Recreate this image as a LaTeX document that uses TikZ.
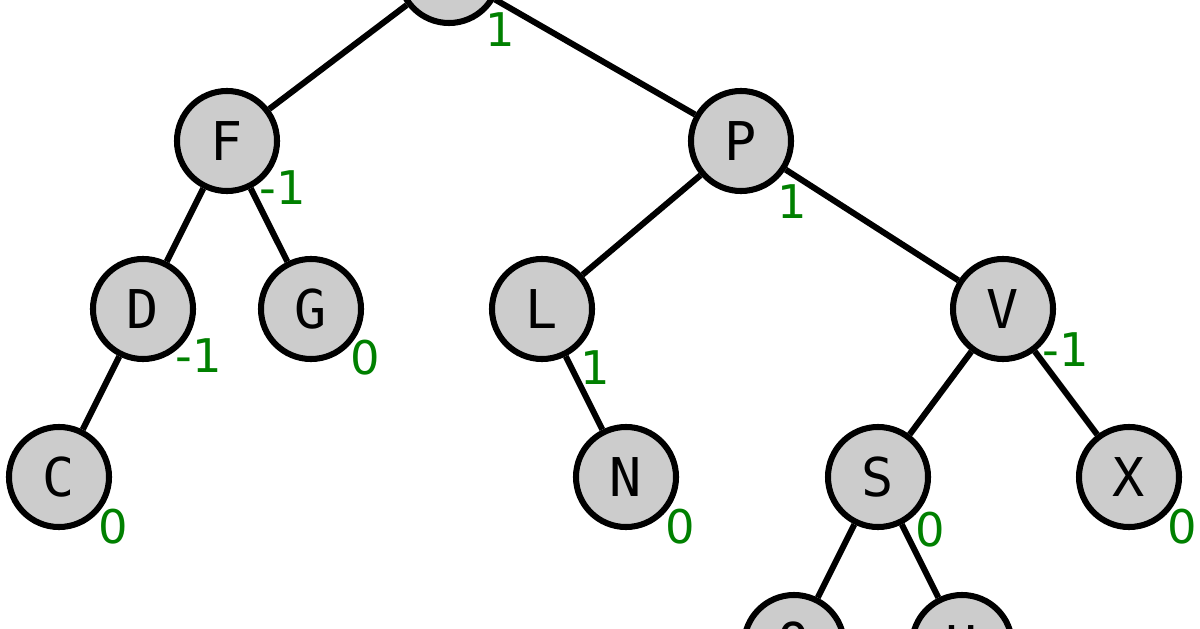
\documentclass[tikz,border=0pt]{standalone}
\usepackage{fontspec}
\setmainfont{DejaVu Sans Mono}
\newfontfamily\labfont{DejaVu Sans}
\definecolor{lab}{RGB}{0,128,0}
\begin{document}
\begin{tikzpicture}[x=0.025cm,y=-0.025cm,
  nd/.style={circle,draw=black,fill={rgb,255:red,204;green,204;blue,204},line width=4.3pt,minimum size=2.5cm,inner sep=0pt,font=\fontsize{38}{38}\selectfont},
  bf/.style={text=lab,font=\labfont\fontsize{33}{33}\selectfont,inner sep=0pt},
  ed/.style={line width=4.3pt}]
\useasboundingbox (0,0) rectangle (1200,629);
\clip (0,0) rectangle (1200,629);
\node[nd] (J) at (449,-27) {J};
\node[nd] (F) at (227,141) {F};
\node[nd] (P) at (741,141) {P};
\node[nd] (D) at (143,309) {D};
\node[nd] (G) at (311,309) {G};
\node[nd] (L) at (542,309) {L};
\node[nd] (V) at (1003,309) {V};
\node[nd] (C) at (59,477) {C};
\node[nd] (N) at (626,477) {N};
\node[nd] (S) at (878,477) {S};
\node[nd] (X) at (1129,477) {X};
\node[nd] (Q) at (794,645) {Q};
\node[nd] (U) at (962,645) {U};
\foreach \a/\b in {J/F,J/P,F/D,F/G,P/L,P/V,D/C,L/N,V/S,V/X,S/Q,S/U}
  \draw[ed] (\a) -- (\b);
\node[bf] at (500,30) {1};
\node[bf] at (283,188) {-1};
\node[bf] at (792,202) {1};
\node[bf] at (199,356) {-1};
\node[bf] at (365,358) {0};
\node[bf] at (595,368) {1};
\node[bf] at (1066,350) {-1};
\node[bf] at (113,527) {0};
\node[bf] at (680,527) {0};
\node[bf] at (930,530) {0};
\node[bf] at (1182,527) {0};
\end{tikzpicture}
\end{document}
